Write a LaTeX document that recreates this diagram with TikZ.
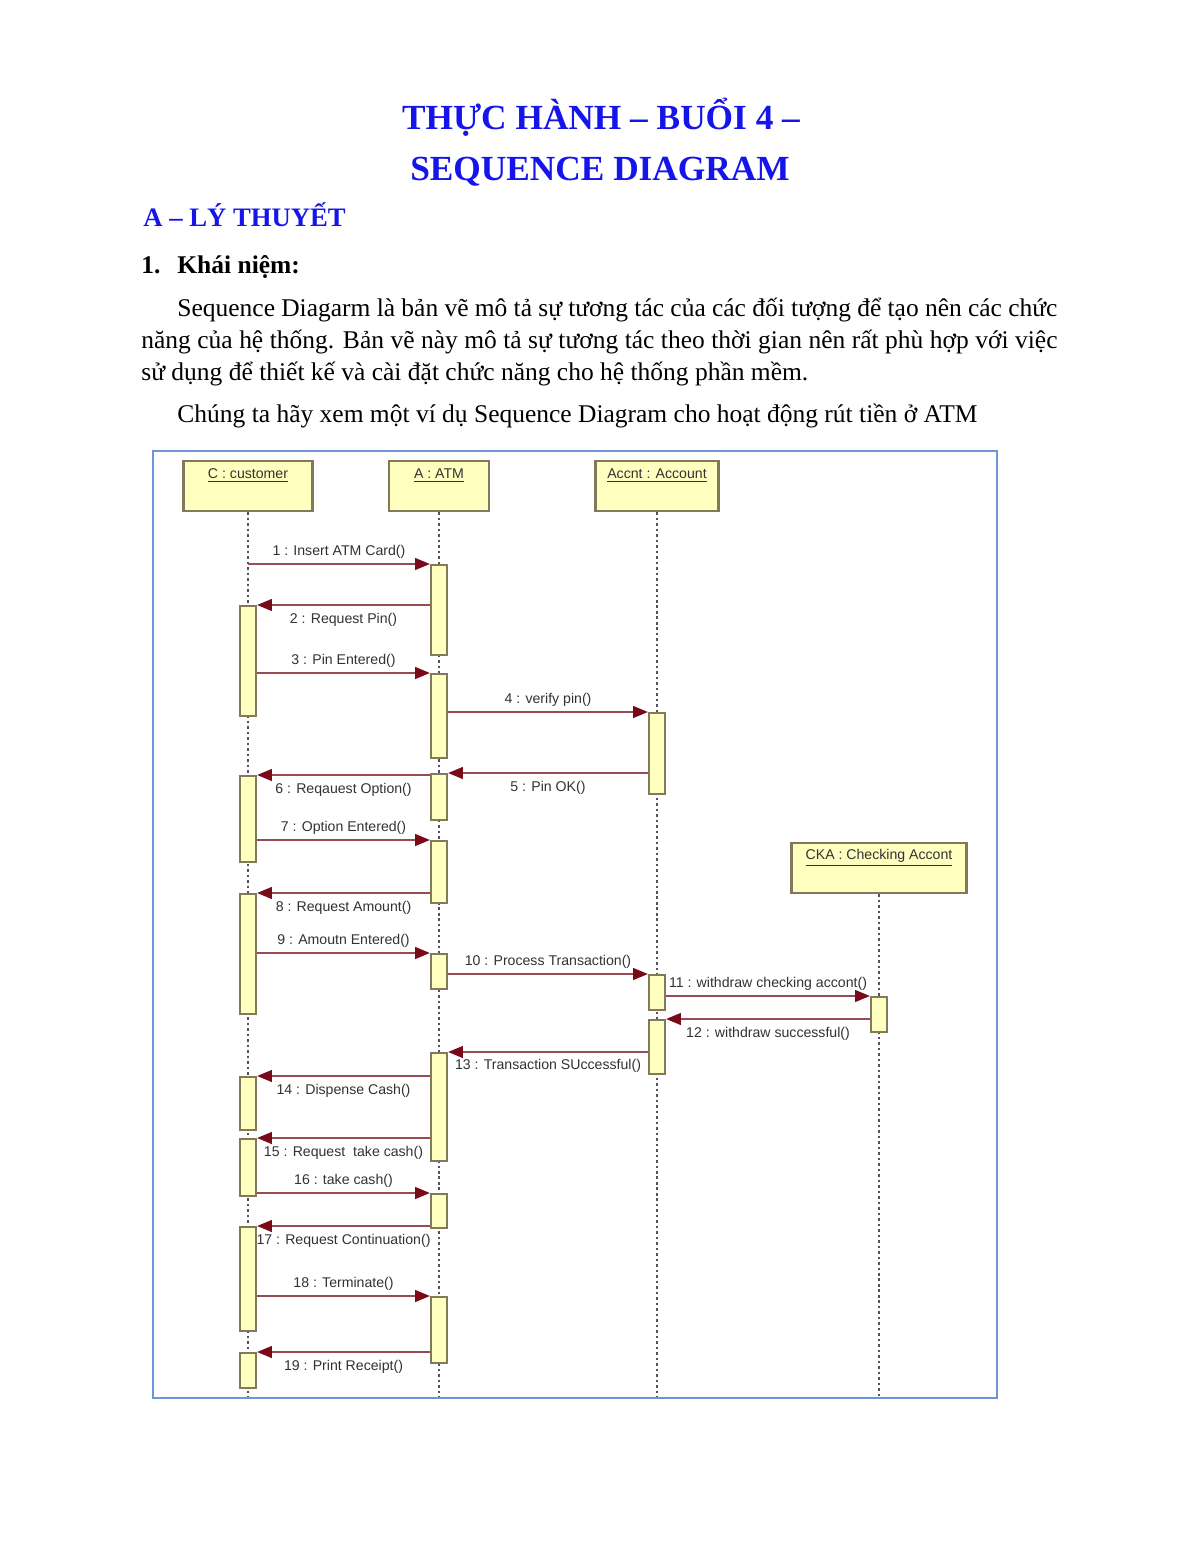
\documentclass[tikz,border=0pt]{standalone}
\usepackage{fontspec}
\setmainfont{Liberation Serif}
\newfontfamily\dsans{Liberation Sans}
\usetikzlibrary{arrows.meta}
\definecolor{titleblue}{RGB}{20,20,235}
\definecolor{framec}{RGB}{110,150,215}
\definecolor{boxfill}{RGB}{255,255,192}
\definecolor{boxline}{RGB}{130,120,90}
\definecolor{msgline}{RGB}{150,75,85}
\definecolor{tipc}{RGB}{120,10,25}
\definecolor{lifec}{RGB}{80,80,95}
\definecolor{lblc}{RGB}{50,50,50}
\newcommand\actbar[4]{\node[actbox, minimum height={(#4-#3)*0.51pt}] (#1) at (#2,#3) {};}
\begin{document}
\begin{tikzpicture}[x=0.51pt,y=-0.51pt,
  objbox/.style={draw=boxline, fill=boxfill, line width=1.1pt, inner sep=0pt, anchor=north, minimum height=25.5pt},
  objtext/.style={font=\dsans\fontsize{7.2}{8}\selectfont, text=lblc, inner sep=0pt},
  actbox/.style={draw=boxline, fill=boxfill, line width=1.1pt, inner sep=0pt, anchor=north, minimum width=8.2pt},
  lifeline/.style={draw=lifec, line width=1pt, dash pattern=on 1.3pt off 1.5pt},
  msg/.style={draw=msgline, line width=0.9pt, -{Triangle[length=7.5pt,width=6pt,color=tipc]}},
  lbl/.style={font=\dsans\fontsize{7.2}{8}\selectfont, text=lblc, inner sep=0pt},
  txt/.style={inner sep=0pt, anchor=base west, font=\fontsize{13}{15}\selectfont},
]
\useasboundingbox (0,0) rectangle (1200,1553);
\fill[white] (0,0) rectangle (1200,1553);

% ---------- header text ----------
\node[inner sep=0pt, anchor=base, text=titleblue, font=\bfseries\fontsize{18}{21}\selectfont] (t1) at (601,130) {THỰC HÀNH – BUỔI 4 –};
\node[inner sep=0pt, anchor=base, text=titleblue, font=\bfseries\fontsize{18}{21}\selectfont] (t2) at (600,181) {SEQUENCE DIAGRAM};
\node[inner sep=0pt, anchor=base west, text=titleblue, font=\bfseries\fontsize{13.6}{16}\selectfont] (sa) at (143,226) {A – LÝ THUYẾT};
\node[txt, font=\bfseries\fontsize{13}{15}\selectfont] (s1n) at (141,273) {1.};
\node[txt, font=\bfseries\fontsize{13}{15}\selectfont] (s1) at (177,273) {Khái niệm:};
\node[txt] (p1) at (177,316) {\makebox[448.8pt][s]{Sequence Diagarm là bản vẽ mô tả sự tương tác của các đối tượng để tạo nên các chức}};
\node[txt] (p2) at (141,348) {\makebox[467.2pt][s]{năng của hệ thống. Bản vẽ này mô tả sự tương tác theo thời gian nên rất phù hợp với việc}};
\node[txt] (p3) at (141,380) {sử dụng để thiết kế và cài đặt chức năng cho hệ thống phần mềm.};
\node[txt] (p4) at (177,422) {Chúng ta hãy xem một ví dụ Sequence Diagram cho hoạt động rút tiền ở ATM};

% ---------- frame ----------
\node[draw=framec, line width=1.2pt, inner sep=0pt, anchor=north west, minimum width={844*0.51pt}, minimum height={947*0.51pt}] (frame) at (152,450) {};
\coordinate (bot) at (0,1397);

% ---------- objects ----------
\node[objbox, minimum width={129*0.51pt}] (C) at (248,460) {};
\node[objbox, minimum width={100*0.51pt}] (A) at (439,460) {};
\node[objbox, minimum width={123*0.51pt}] (N) at (657,460) {};
\node[objbox, minimum width={175*0.51pt}] (K) at (879,842) {};
\node[objtext] (Ct) at ([yshift=-8.2pt]C.north) {\underline{C : customer}};
\node[objtext] (At) at ([yshift=-8.2pt]A.north) {\underline{A : ATM}};
\node[objtext] (Nt) at ([yshift=-8.2pt]N.north) {\underline{Accnt : Account}};
\node[objtext] (Kt) at ([yshift=-8.2pt]K.north) {\underline{CKA : Checking Accont}};

% ---------- lifelines ----------
\draw[lifeline] (C.south) -- (C.south |- bot);
\draw[lifeline] (A.south) -- (A.south |- bot);
\draw[lifeline] (N.south) -- (N.south |- bot);
\draw[lifeline] (K.south) -- (K.south |- bot);

% ---------- activation bars ----------
\actbar{c1}{248}{605}{715}
\actbar{c2}{248}{775}{861}
\actbar{c3}{248}{893}{1013}
\actbar{c4}{248}{1076}{1129}
\actbar{c5}{248}{1138}{1195}
\actbar{c6}{248}{1226}{1330}
\actbar{c7}{248}{1352}{1387}
\actbar{a1}{439}{564}{654}
\actbar{a2}{439}{673}{757}
\actbar{a3}{439}{773}{819}
\actbar{a4}{439}{840}{902}
\actbar{a5}{439}{953}{988}
\actbar{a6}{439}{1052}{1160}
\actbar{a7}{439}{1193}{1227}
\actbar{a8}{439}{1296}{1362}
\actbar{n1}{657}{712}{793}
\actbar{n2}{657}{974}{1009}
\actbar{n3}{657}{1019}{1073}
\actbar{k1}{879}{996}{1031}

% ---------- messages ----------
\draw[msg] (C |- a1.north west) -- node[lbl, above=2.6pt] {1 : Insert ATM Card()} (a1.north west);
\draw[msg] (a1.west |- c1.north) -- node[lbl, below=3.6pt] {2 : Request Pin()} (c1.north east);
\draw[msg] (c1.east |- a2.north) -- node[lbl, above=2.6pt] {3 : Pin Entered()} (a2.north west);
\draw[msg] (a2.east |- n1.north) -- node[lbl, above=2.6pt] {4 : verify pin()} (n1.north west);
\draw[msg] (n1.west |- a3.north) -- node[lbl, below=3.6pt] {5 : Pin OK()} (a3.north east);
\draw[msg] (a3.west |- c2.north) -- node[lbl, below=3.6pt] {6 : Reqauest Option()} (c2.north east);
\draw[msg] (c2.east |- a4.north) -- node[lbl, above=2.6pt] {7 : Option Entered()} (a4.north west);
\draw[msg] (a4.west |- c3.north) -- node[lbl, below=3.6pt] {8 : Request Amount()} (c3.north east);
\draw[msg] (c3.east |- a5.north) -- node[lbl, above=2.6pt] {9 : Amoutn Entered()} (a5.north west);
\draw[msg] (a5.east |- n2.north) -- node[lbl, above=2.6pt] {10 : Process Transaction()} (n2.north west);
\draw[msg] (n2.east |- k1.north) -- node[lbl, above=2.6pt] {11 : withdraw checking accont()} (k1.north west);
\draw[msg] (k1.west |- n3.north) -- node[lbl, below=3.6pt] {12 : withdraw successful()} (n3.north east);
\draw[msg] (n3.west |- a6.north) -- node[lbl, below=3.2pt] {13 : Transaction SUccessful()} (a6.north east);
\draw[msg] (a6.west |- c4.north) -- node[lbl, below=3.6pt] {14 : Dispense Cash()} (c4.north east);
\draw[msg] (a6.west |- c5.north) -- node[lbl, below=3.6pt] {15 : Request~ take cash()} (c5.north east);
\draw[msg] (c5.east |- a7.north) -- node[lbl, above=2.6pt] {16 : take cash()} (a7.north west);
\draw[msg] (a7.west |- c6.north) -- node[lbl, below=3.6pt] {17 : Request Continuation()} (c6.north east);
\draw[msg] (c6.east |- a8.north) -- node[lbl, above=2.6pt] {18 : Terminate()} (a8.north west);
\draw[msg] (a8.west |- c7.north) -- node[lbl, below=3.6pt] {19 : Print Receipt()} (c7.north east);
\end{tikzpicture}
\end{document}
